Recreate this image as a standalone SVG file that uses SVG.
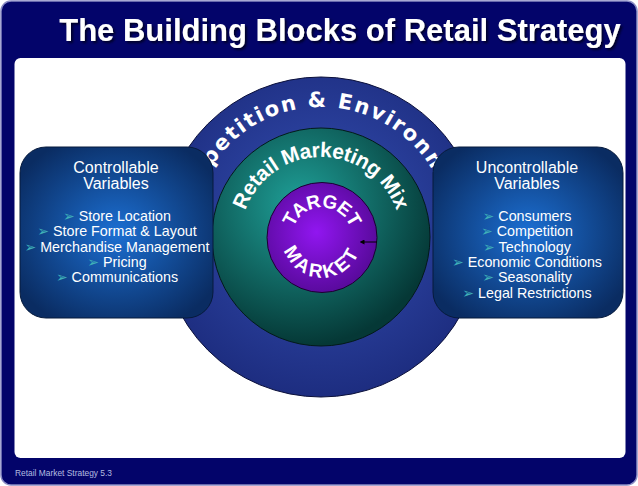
<svg xmlns="http://www.w3.org/2000/svg" width="638" height="486" viewBox="0 0 638 486">
<style>
.title{font-family:"Liberation Sans",Arial,sans-serif;font-weight:bold;font-size:31px;fill:#fff}
.foot{font-family:"Liberation Sans",Arial,sans-serif;font-size:9.5px;fill:#b4bce0}
.ring{font-family:"DejaVu Sans",Verdana,sans-serif;font-weight:bold;font-size:21px;fill:#fff;letter-spacing:1.8px}
.mix{font-family:"Liberation Sans",Arial,sans-serif;font-weight:bold;font-size:21px;fill:#fff;letter-spacing:-0.3px}
.tm{font-family:"Liberation Sans",Arial,sans-serif;font-weight:bold;font-size:19px;fill:#fff}
.hd{font-family:"Liberation Sans",Arial,sans-serif;font-size:16px;fill:#fff}
.it{font-family:"Liberation Sans",Arial,sans-serif;font-size:14.3px;fill:#fff}
.bl{font-family:"DejaVu Sans",sans-serif;font-size:14px;fill:#3fb0b8}
.box{stroke:#061a3c;stroke-width:1}
</style>
<defs>
<radialGradient id="gOuter" cx="50%" cy="45%" r="55%">
<stop offset="0" stop-color="#3550b4"/><stop offset="1" stop-color="#1d2d80"/>
</radialGradient>
<radialGradient id="gGreen" cx="40%" cy="35%" r="65%">
<stop offset="0" stop-color="#1fa098"/><stop offset="1" stop-color="#053836"/>
</radialGradient>
<radialGradient id="gPurple" cx="45%" cy="45%" r="55%">
<stop offset="0" stop-color="#9116f0"/><stop offset="1" stop-color="#5a0a9e"/>
</radialGradient>
<radialGradient id="gBox" cx="50%" cy="50%" r="60%">
<stop offset="0" stop-color="#1c6fd2"/><stop offset="1" stop-color="#0a2c62"/>
</radialGradient>
<filter id="sh" x="-5%" y="-20%" width="110%" height="150%">
<feDropShadow dx="2" dy="2" stdDeviation="1" flood-color="#000020" flood-opacity="0.9"/>
</filter>
<marker id="ah" viewBox="0 0 10 10" refX="1" refY="5" markerWidth="5" markerHeight="5" orient="auto-start-reverse">
<path d="M0,0 L10,5 L0,10 z" fill="#000"/>
</marker>
<path id="pRing" d="M191,237 A130,130 0 0 1 451,237"/>
<path id="pMix" d="M241,237 A80,80 0 0 1 401,237"/>
<path id="pTarget" d="M292,237.5 A30,30 0 0 1 352,237.5"/>
<path id="pMarket" d="M282,237.5 A40,40 0 0 0 362,237.5"/>
</defs>

<g id="background">
<rect x="1" y="1" width="636" height="484" rx="10" fill="#03046a" stroke="#8a8cc4" stroke-width="1.5"/>
<rect x="14.5" y="58" width="611" height="400" rx="6" fill="#fff"/>
<text class="title" x="340" y="41" text-anchor="middle" filter="url(#sh)">The Building Blocks of Retail Strategy</text>
<text class="foot" x="15" y="476" textLength="97" lengthAdjust="spacingAndGlyphs">Retail Market Strategy 5.3</text>
</g>

<g id="environment">
<circle cx="321" cy="237" r="160" fill="url(#gOuter)" stroke="#0a0f3a" stroke-width="1"/>
<text class="ring"><textPath href="#pRing" startOffset="50%" text-anchor="middle">Competition &amp; Environment</textPath></text>
</g>

<g id="marketing-mix">
<circle cx="321" cy="237" r="109" fill="url(#gGreen)" stroke="#031a1a" stroke-width="1"/>
<text class="mix"><textPath href="#pMix" startOffset="50%" text-anchor="middle">Retail Marketing Mix</textPath></text>
</g>

<g id="target-market">
<circle cx="322" cy="237.5" r="55" fill="url(#gPurple)" stroke="#1a0030" stroke-width="1"/>
<text class="tm" letter-spacing="-0.5"><textPath href="#pTarget" startOffset="50%" text-anchor="middle">TARGET</textPath></text>
<text class="tm" letter-spacing="3"><textPath href="#pMarket" startOffset="50%" text-anchor="middle">MARKET</textPath></text>
</g>

<g id="connectors">
<line x1="377" y1="242" x2="364" y2="242" stroke="#000" stroke-width="1" marker-end="url(#ah)"/>
</g>

<g id="controllable">
<rect class="box" x="20" y="147" width="193" height="171" rx="26" fill="url(#gBox)"/>
<text class="hd" x="116" y="173" text-anchor="middle">Controllable</text>
<text class="hd" x="116" y="189" text-anchor="middle">Variables</text>
<text class="it" x="117" y="221" text-anchor="middle"><tspan class="bl">➢</tspan> Store Location</text>
<text class="it" x="117" y="236" text-anchor="middle"><tspan class="bl">➢</tspan> Store Format &amp; Layout</text>
<text class="it" x="117" y="252" text-anchor="middle"><tspan class="bl">➢</tspan> Merchandise Management</text>
<text class="it" x="117" y="267" text-anchor="middle"><tspan class="bl">➢</tspan> Pricing</text>
<text class="it" x="117" y="282" text-anchor="middle"><tspan class="bl">➢</tspan> Communications</text>
</g>

<g id="uncontrollable">
<rect class="box" x="433" y="147" width="190" height="171" rx="26" fill="url(#gBox)"/>
<text class="hd" x="527" y="173" text-anchor="middle">Uncontrollable</text>
<text class="hd" x="527" y="189" text-anchor="middle">Variables</text>
<text class="it" x="527" y="221" text-anchor="middle"><tspan class="bl">➢</tspan> Consumers</text>
<text class="it" x="527" y="236" text-anchor="middle"><tspan class="bl">➢</tspan> Competition</text>
<text class="it" x="527" y="252" text-anchor="middle"><tspan class="bl">➢</tspan> Technology</text>
<text class="it" x="527" y="267" text-anchor="middle"><tspan class="bl">➢</tspan> Economic Conditions</text>
<text class="it" x="527" y="282" text-anchor="middle"><tspan class="bl">➢</tspan> Seasonality</text>
<text class="it" x="527" y="298" text-anchor="middle"><tspan class="bl">➢</tspan> Legal Restrictions</text>
</g>
</svg>
